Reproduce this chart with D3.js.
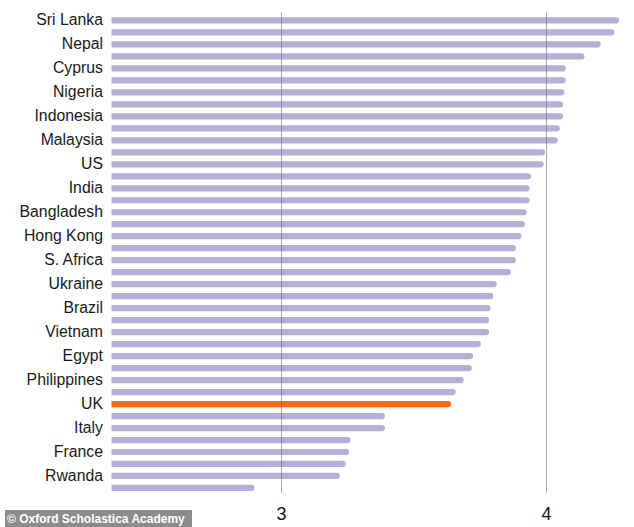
<!DOCTYPE html>
<html>
<head>
<meta charset="utf-8">
<script src="https://cdn.jsdelivr.net/npm/d3@7"></script>
<style>
  html, body { margin: 0; padding: 0; background: #fff; }
  svg { display: block; }
</style>
</head>
<body>
<svg id="chart" width="634" height="527"></svg>
<script>
// Labels shown on every other bar (bars 0,2,4,...,38)
const labels = ["Sri Lanka","Nepal","Cyprus","Nigeria","Indonesia","Malaysia","US","India",
  "Bangladesh","Hong Kong","S. Africa","Ukraine","Brazil","Vietnam","Egypt","Philippines",
  "UK","Italy","France","Rwanda"];
// Values for all 40 bars, top to bottom
const values = [4.275,4.258,4.206,4.145,4.074,4.074,4.069,4.064,4.064,4.052,
  4.044,3.996,3.991,3.943,3.938,3.938,3.927,3.920,3.907,3.886,
  3.886,3.867,3.814,3.801,3.790,3.785,3.785,3.754,3.725,3.720,
  3.689,3.659,3.642,3.392,3.392,3.262,3.257,3.244,3.222,2.899];
const highlightIndex = 32; // UK
const xTicks = [3, 4];
const xMin = 2.36, xMax = 4.36;

const svg = d3.select("#chart");
const x = d3.scaleLinear().domain([xMin, xMax]).range([111.5, 641.5]);
const y = d3.scaleBand().domain(d3.range(values.length))
  .range([14.2, 494.2]).paddingInner(0.48).paddingOuter(0.26);

const barColor = "#b4b0d5", hiColor = "#f36a12";
const bw = y.bandwidth(), r = bw / 2;

// bars: square left end, rounded right end
svg.append("g").selectAll("path").data(values).join("path")
  .attr("fill", (d, i) => i === highlightIndex ? hiColor : barColor)
  .attr("d", (d, i) => {
    const x0 = x(xMin), x1 = x(d), y0 = y(i);
    return `M${x0},${y0}H${x1 - r}A${r},${r} 0 0 1 ${x1 - r},${y0 + bw}H${x0}Z`;
  });

// gridlines (on top of bars)
svg.append("g").selectAll("line").data(xTicks).join("line")
  .attr("x1", d => Math.round(x(d)) + 0.5).attr("x2", d => Math.round(x(d)) + 0.5)
  .attr("y1", 12).attr("y2", 493)
  .attr("stroke", "#6f6f6f").attr("stroke-opacity", 0.6).attr("stroke-width", 1);

// x tick labels
const xAxis = d3.axisBottom(x).tickValues(xTicks).tickSize(0).tickPadding(0).tickFormat(d3.format("d"));
const gx = svg.append("g").attr("transform", "translate(0,507)").call(xAxis);
gx.select(".domain").remove();
gx.selectAll("text").attr("font-family", "Liberation Sans, Arial, sans-serif")
  .attr("font-size", 18).attr("fill", "#111").attr("dy", "0.71em");

// y labels
const yAxis = d3.axisLeft(y).tickValues(d3.range(0, values.length, 2)).tickSize(0).tickPadding(0)
  .tickFormat(i => labels[i / 2]);
const gy = svg.append("g").attr("transform", "translate(103,0)").call(yAxis);
gy.select(".domain").remove();
gy.selectAll("text").attr("font-family", "Liberation Sans, Arial, sans-serif")
  .attr("font-size", 15.8).attr("fill", "#1a1a1a");

// watermark
const wm = svg.append("g");
wm.append("rect").attr("x", 5).attr("y", 510).attr("width", 187).attr("height", 17).attr("fill", "#8c8c8c");
wm.append("text").attr("x", 7).attr("y", 523).attr("fill", "#fff")
  .attr("font-family", "Liberation Sans, Arial, sans-serif").attr("font-weight", "bold")
  .attr("font-size", 12).text("© Oxford Scholastica Academy");
</script>
</body>
</html>
